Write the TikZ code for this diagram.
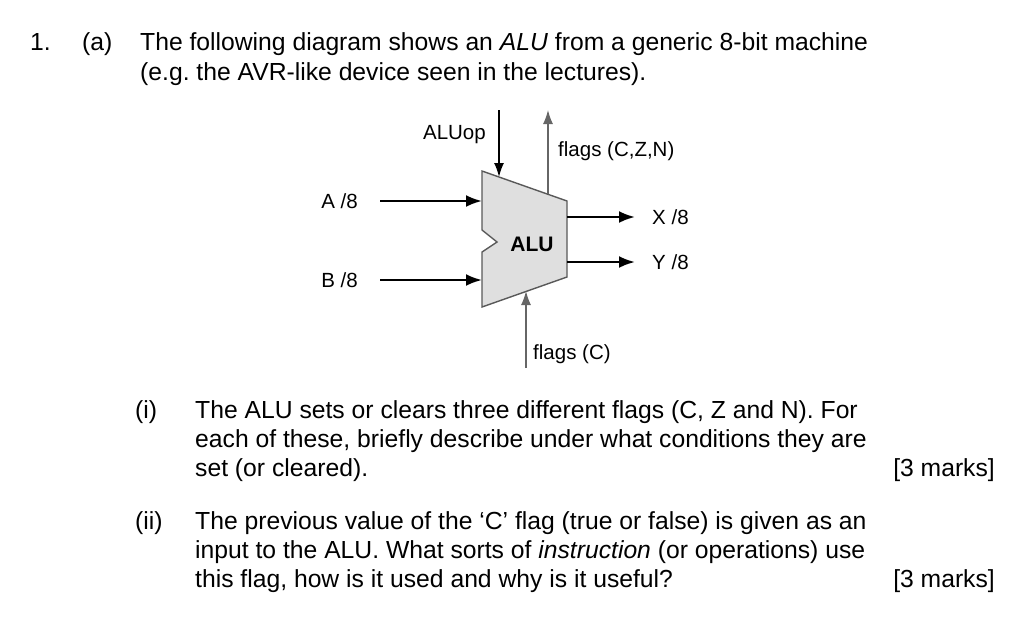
\documentclass[tikz,border=0pt]{standalone}
\usepackage{fontspec}
\setmainfont{Liberation Sans}
\usetikzlibrary{arrows.meta}
\begin{document}
\begin{tikzpicture}[x=1pt,y=-1pt,
  txt/.style={anchor=base west,inner sep=0pt,font=\fontsize{24.7}{29}\selectfont},
  lab/.style={inner sep=0pt,font=\fontsize{20.5}{24}\selectfont},
  blk/.style={line width=2.4pt,-{Latex[length=16pt,width=12pt]}},
  gry/.style={line width=1.4pt,draw=gray!80!black,-{Latex[length=14pt,width=10pt]}}]
\useasboundingbox (0,0) rectangle (1024,621);
\node[txt] (n1) at (30,50) {1.};
\node[txt] (na) at (82,50) {(a)};
\node[txt] (l1) at (140,50) {The following diagram shows an \textit{ALU} from a generic 8-bit machine};
\node[txt] (l2) at (140,80) {(e.g.\ the AVR-like device seen in the lectures).};
% ALU
\draw[fill=gray!25,draw=gray!70!black,line width=1.4pt]
  (482,171) -- (567,201) -- (567,277) -- (482,307) -- (482,252) -- (497,242) -- (482,230) -- cycle;
\node[lab,font=\fontsize{21}{24}\selectfont\bfseries] (alu) at (532,244) {ALU};
\coordinate (ain) at (482,201);
\coordinate (bin) at (482,280);
\node[lab,anchor=east] (A) at (358,201) {A /8};
\node[lab,anchor=east] (B) at (358,280) {B /8};
\coordinate (as) at (380,201);
\coordinate (bs) at (380,280);
\draw[blk] (as) -- (ain);
\draw[blk] (bs) -- (bin);
\coordinate (xs) at (567,217);
\coordinate (ys) at (567,262);
\coordinate (xe) at (635,217);
\coordinate (ye) at (635,262);
\node[lab,anchor=west] (X) at (652,217) {X /8};
\node[lab,anchor=west] (Y) at (652,262) {Y /8};
\draw[blk] (xs) -- (xe);
\draw[blk] (ys) -- (ye);
\node[lab,anchor=east] (op) at (486,135) {ALUop};
\coordinate (ops) at (499,110);
\coordinate (ope) at (499,177);
\draw[line width=1.6pt,-{Latex[length=14pt,width=10pt]}] (ops) -- (ope);
\coordinate (fs) at (548,194);
\coordinate (fe) at (548,110);
\draw[gry] (fs) -- (fe);
\node[lab,anchor=west] (fz) at (558,151) {flags (C,Z,N)};
\coordinate (cs) at (526,368);
\coordinate (ce) at (526,291);
\draw[gry] (cs) -- (ce);
\node[lab,anchor=west] (fc) at (533,354) {flags (C)};
% questions
\node[txt] (i) at (135,418) {(i)};
\node[txt] (i1) at (195,418) {The ALU sets or clears three different flags (C, Z and N). For};
\node[txt] (i2) at (195,447) {each of these, briefly describe under what conditions they are};
\node[txt] (i3) at (195,476) {set (or cleared).};
\node[txt,anchor=base east] (m1) at (995,476) {[3 marks]};
\node[txt] (ii) at (135,529) {(ii)};
\node[txt] (ii1) at (195,529) {The previous value of the `C' flag (true or false) is given as an};
\node[txt] (ii2) at (195,558) {input to the ALU. What sorts of \textit{instruction} (or operations) use};
\node[txt] (ii3) at (195,587) {this flag, how is it used and why is it useful?};
\node[txt,anchor=base east] (m2) at (995,587) {[3 marks]};
\end{tikzpicture}
\end{document}
